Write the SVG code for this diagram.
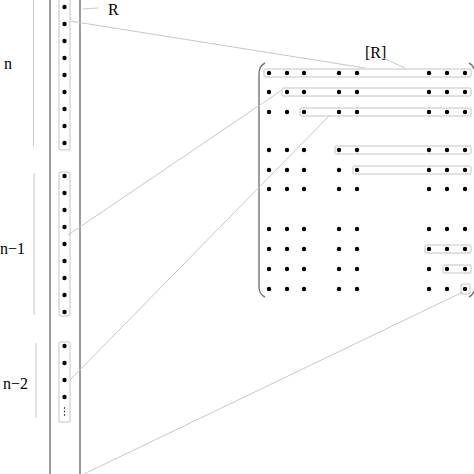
<svg xmlns="http://www.w3.org/2000/svg" width="474" height="474" viewBox="0 0 474 474">
<style>
.d{fill:#000}
.box{fill:none;stroke:#c4c4c4;stroke-width:1}
.thin{stroke:#c8c8c8;stroke-width:1;fill:none}
.rail{stroke:#666;stroke-width:1.3}
.br{fill:none;stroke:#777;stroke-width:1.4}
text{font-family:"Liberation Serif",serif;font-size:16px;fill:#000}
</style>
<rect width="474" height="474" fill="#fff"/>
<g id="rails">
<line class="rail" x1="50" y1="0" x2="50" y2="474"/>
<line class="rail" x1="80" y1="0" x2="80" y2="474"/>
</g>
<g id="labels">
<line class="thin" x1="33.5" y1="0" x2="33.5" y2="146"/>
<line class="thin" x1="34" y1="173" x2="34" y2="315"/>
<line class="thin" x1="36" y1="343" x2="36" y2="418"/>
<text x="4" y="69">n</text>
<text x="0" y="254">n−1</text>
<text x="3" y="389">n−2</text>
<text x="108" y="15">R</text>
<text x="365" y="58">[R]</text>
</g>
<g id="column1">
<rect class="box" x="59" y="-2" width="11" height="152" rx="1"/>
<circle class="d" cx="64.5" cy="7" r="2.2"/><circle class="d" cx="64.5" cy="24" r="2.2"/><circle class="d" cx="64.5" cy="41" r="2.2"/><circle class="d" cx="64.5" cy="58" r="2.2"/><circle class="d" cx="64.5" cy="75" r="2.2"/><circle class="d" cx="64.5" cy="92" r="2.2"/><circle class="d" cx="64.5" cy="109" r="2.2"/><circle class="d" cx="64.5" cy="126" r="2.2"/><circle class="d" cx="64.5" cy="143" r="2.2"/>
</g>
<g id="column2">
<rect class="box" x="59" y="172" width="11" height="144" rx="1"/>
<circle class="d" cx="64.5" cy="176" r="2.2"/><circle class="d" cx="64.5" cy="193" r="2.2"/><circle class="d" cx="64.5" cy="210" r="2.2"/><circle class="d" cx="64.5" cy="227" r="2.2"/><circle class="d" cx="64.5" cy="244" r="2.2"/><circle class="d" cx="64.5" cy="261" r="2.2"/><circle class="d" cx="64.5" cy="278" r="2.2"/><circle class="d" cx="64.5" cy="295" r="2.2"/><circle class="d" cx="64.5" cy="312" r="2.2"/>
</g>
<g id="column3">
<rect class="box" x="59" y="342" width="11" height="80" rx="1"/>
<circle class="d" cx="64.5" cy="346" r="2.2"/><circle class="d" cx="64.5" cy="363" r="2.2"/><circle class="d" cx="64.5" cy="380" r="2.2"/><circle class="d" cx="64.5" cy="397" r="2.2"/>
<circle class="d" cx="64.5" cy="408" r="0.7"/><circle class="d" cx="64.5" cy="411.5" r="0.7"/><circle class="d" cx="64.5" cy="415" r="0.7"/>
</g>
<g id="matrix">
<path class="br" d="M265,63 Q259,66 259,74 L259,287 Q259,294 265,297"/>
<path class="br" d="M469,63 Q473,65 474,69"/>
<path class="br" d="M469,297 Q473,295 474,291"/>
<rect class="box" x="264" y="69" width="207" height="8" rx="1"/>
<rect class="box" x="282" y="88" width="189" height="8" rx="1"/>
<rect class="box" x="300" y="108" width="171" height="8" rx="1"/>
<rect class="box" x="335" y="146" width="136" height="8" rx="1"/>
<rect class="box" x="353" y="166" width="118" height="8" rx="1"/>
<rect class="box" x="425" y="245" width="46" height="8" rx="1"/>
<rect class="box" x="443" y="265" width="28" height="8" rx="1"/>
<rect class="box" x="461" y="284" width="9" height="10" rx="1"/>
<g id="dots">
<g transform="translate(0,73)"><circle class="d" cx="269" r="2.2"/><circle class="d" cx="287" r="2.2"/><circle class="d" cx="304" r="2.2"/><circle class="d" cx="339" r="2.2"/><circle class="d" cx="357" r="2.2"/><circle class="d" cx="429" r="2.2"/><circle class="d" cx="447" r="2.2"/><circle class="d" cx="465" r="2.2"/></g>
<g transform="translate(0,92)"><circle class="d" cx="269" r="2.2"/><circle class="d" cx="287" r="2.2"/><circle class="d" cx="304" r="2.2"/><circle class="d" cx="339" r="2.2"/><circle class="d" cx="357" r="2.2"/><circle class="d" cx="429" r="2.2"/><circle class="d" cx="447" r="2.2"/><circle class="d" cx="465" r="2.2"/></g>
<g transform="translate(0,112)"><circle class="d" cx="269" r="2.2"/><circle class="d" cx="287" r="2.2"/><circle class="d" cx="304" r="2.2"/><circle class="d" cx="339" r="2.2"/><circle class="d" cx="357" r="2.2"/><circle class="d" cx="429" r="2.2"/><circle class="d" cx="447" r="2.2"/><circle class="d" cx="465" r="2.2"/></g>
<g transform="translate(0,150)"><circle class="d" cx="269" r="2.2"/><circle class="d" cx="287" r="2.2"/><circle class="d" cx="304" r="2.2"/><circle class="d" cx="339" r="2.2"/><circle class="d" cx="357" r="2.2"/><circle class="d" cx="429" r="2.2"/><circle class="d" cx="447" r="2.2"/><circle class="d" cx="465" r="2.2"/></g>
<g transform="translate(0,170)"><circle class="d" cx="269" r="2.2"/><circle class="d" cx="287" r="2.2"/><circle class="d" cx="304" r="2.2"/><circle class="d" cx="339" r="2.2"/><circle class="d" cx="357" r="2.2"/><circle class="d" cx="429" r="2.2"/><circle class="d" cx="447" r="2.2"/><circle class="d" cx="465" r="2.2"/></g>
<g transform="translate(0,189)"><circle class="d" cx="269" r="2.2"/><circle class="d" cx="287" r="2.2"/><circle class="d" cx="304" r="2.2"/><circle class="d" cx="339" r="2.2"/><circle class="d" cx="357" r="2.2"/><circle class="d" cx="429" r="2.2"/><circle class="d" cx="447" r="2.2"/><circle class="d" cx="465" r="2.2"/></g>
<g transform="translate(0,229)"><circle class="d" cx="269" r="2.2"/><circle class="d" cx="287" r="2.2"/><circle class="d" cx="304" r="2.2"/><circle class="d" cx="339" r="2.2"/><circle class="d" cx="357" r="2.2"/><circle class="d" cx="429" r="2.2"/><circle class="d" cx="447" r="2.2"/><circle class="d" cx="465" r="2.2"/></g>
<g transform="translate(0,249)"><circle class="d" cx="269" r="2.2"/><circle class="d" cx="287" r="2.2"/><circle class="d" cx="304" r="2.2"/><circle class="d" cx="339" r="2.2"/><circle class="d" cx="357" r="2.2"/><circle class="d" cx="429" r="2.2"/><circle class="d" cx="447" r="2.2"/><circle class="d" cx="465" r="2.2"/></g>
<g transform="translate(0,269)"><circle class="d" cx="269" r="2.2"/><circle class="d" cx="287" r="2.2"/><circle class="d" cx="304" r="2.2"/><circle class="d" cx="339" r="2.2"/><circle class="d" cx="357" r="2.2"/><circle class="d" cx="429" r="2.2"/><circle class="d" cx="447" r="2.2"/><circle class="d" cx="465" r="2.2"/></g>
<g transform="translate(0,289)"><circle class="d" cx="269" r="2.2"/><circle class="d" cx="287" r="2.2"/><circle class="d" cx="304" r="2.2"/><circle class="d" cx="339" r="2.2"/><circle class="d" cx="357" r="2.2"/><circle class="d" cx="429" r="2.2"/><circle class="d" cx="447" r="2.2"/><circle class="d" cx="465" r="2.2"/></g>
</g>
</g>
<g id="connectors">
<line class="thin" x1="83" y1="9" x2="98" y2="8"/>
<line class="thin" x1="383" y1="58" x2="405" y2="68"/>
<line class="thin" x1="70" y1="21" x2="365" y2="68"/>
<line class="thin" x1="68" y1="235" x2="282" y2="90"/>
<line class="thin" x1="70" y1="380" x2="330" y2="115"/>
<line class="thin" x1="84" y1="474" x2="463" y2="292"/>
</g>
</svg>
